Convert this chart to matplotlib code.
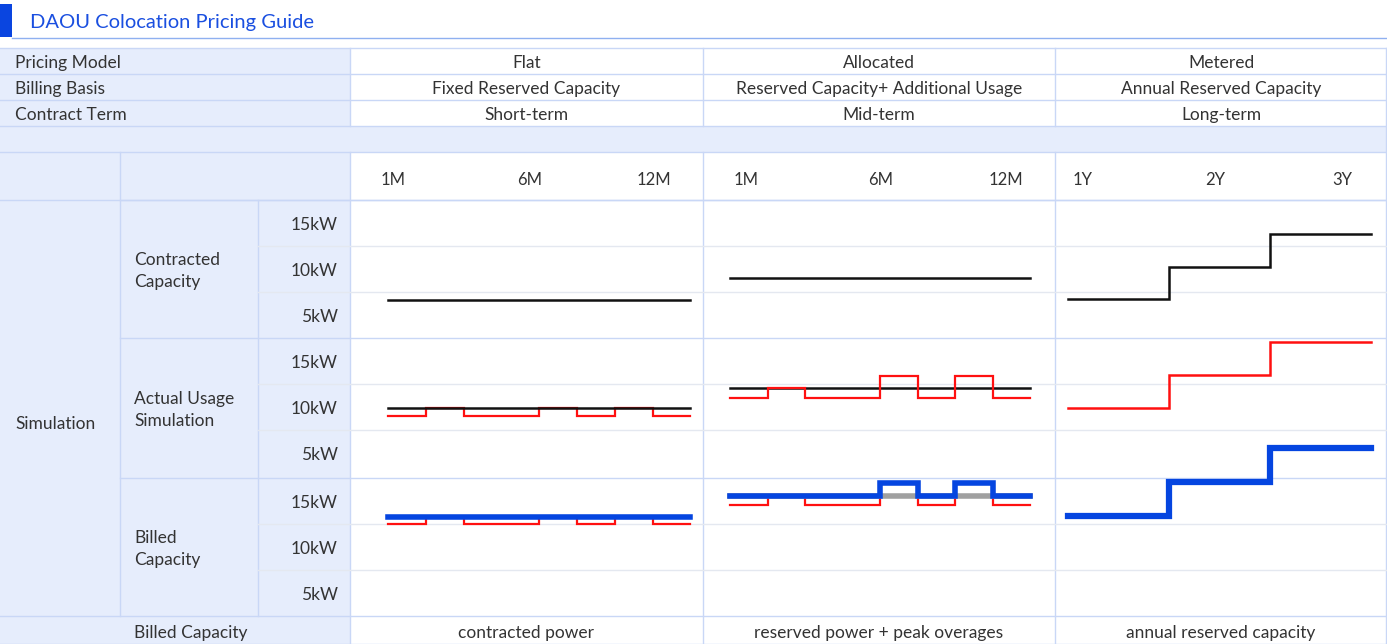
import matplotlib
matplotlib.use("Agg")
import matplotlib.pyplot as plt
from matplotlib.patches import Rectangle

plt.rcParams["font.family"] = ["Lato", "DejaVu Sans"]

# ---- data ----
models = ["Flat", "Allocated", "Metered"]
billing_basis = ["Fixed Reserved Capacity", "Reserved Capacity+ Additional Usage", "Annual Reserved Capacity"]
contract_terms = ["Short-term", "Mid-term", "Long-term"]
footer_texts = ["contracted power", "reserved power + peak overages", "annual reserved capacity"]
month_ticks = ["1M", "6M", "12M"]
year_ticks = ["1Y", "2Y", "3Y"]
kw_ticks = ["15kW", "10kW", "5kW"]
row_names = ["Contracted\nCapacity", "Actual Usage\nSimulation", "Billed\nCapacity"]

month_breaks = [0, 1.5, 3, 6, 7.5, 9, 10.5, 12]
year_breaks = [0, 1, 2, 3]

flat_contract = [6.6] * 7
flat_actual_ref = [9.9] * 7
flat_actual = [9.0, 9.9, 9.0, 9.9, 9.0, 9.9, 9.0]
flat_billed = [13.3] * 7
flat_billed_usage = [12.5, 13.3, 12.5, 13.3, 12.5, 13.3, 12.5]

alloc_contract = [9.0] * 7
alloc_actual_ref = [12.1] * 7
alloc_actual = [11.0, 12.1, 11.0, 13.4, 11.0, 13.4, 11.0]
alloc_billed_base = [15.5] * 7
alloc_billed = [15.5, 15.5, 15.5, 17.0, 15.5, 17.0, 15.5]
alloc_billed_usage = [14.6, 15.5, 14.6, 15.5, 14.6, 15.5, 14.6]

meter_contract = [6.7, 10.2, 13.8]
meter_actual = [9.9, 13.5, 17.1]
meter_billed = [13.4, 17.1, 20.8]

# ---- layout (pixel space) ----
W, H = 1387, 644
BLUE_BG = "#e6edfc"
GRID = "#c9d7f6"
LGRAY = "#e4e8f0"
TXT = "#333333"
cols = [350, 703, 1055, 1387]
rows_top = [200, 338, 478]
row_h = [138, 140, 138]
DY = 2  # text baseline nudge

fig = plt.figure(figsize=(W / 100, H / 100), dpi=100)
ax = fig.add_axes([0, 0, 1, 1])
ax.set_xlim(0, W)
ax.set_ylim(H, 0)
ax.axis("off")


def rect(x0, y0, x1, y1, color):
    ax.add_patch(Rectangle((x0, y0), x1 - x0, y1 - y0, facecolor=color, edgecolor="none", zorder=0))


def hline(y, x0, x1, color=GRID, lw=1.0):
    ax.plot([x0, x1], [y, y], color=color, lw=lw, zorder=1)


def vline(x, y0, y1, color=GRID, lw=1.0):
    ax.plot([x, x], [y0, y1], color=color, lw=lw, zorder=1)


# title
rect(0, 4, 12, 37, "#0a45e0")
ax.text(30, 20 + DY, "DAOU Colocation Pricing Guide", color="#1a4fe0", fontsize=14.5,
        va="center", ha="left")
hline(38, 12, W, color="#8fb0f0")

# backgrounds
rect(0, 48, 350, 126, BLUE_BG)
rect(0, 126, W, 152, BLUE_BG)
rect(0, 152, 350, 644, BLUE_BG)

# table lines
for y in [48, 74, 100, 126, 152, 200, 616, 644]:
    hline(y, 0, W)
for y in rows_top:
    hline(y, 120, W)
for c in cols[:-1]:
    vline(c, 48, 126)
    vline(c, 152, 644)
vline(120, 152, 616)
vline(258, 200, 616)
vline(W - 1, 48, 644)

# kW gridlines and labels
for y0 in rows_top:
    for i, lab in enumerate(kw_ticks):
        yc = y0 + 23 + 46 * i
        ax.text(338, yc + DY, lab, ha="right", va="center", fontsize=12.5, color=TXT)
        if i < 2:
            hline(y0 + 46 * (i + 1), 258, W, color=LGRAY)

# header rows
labels = ["Pricing Model", "Billing Basis", "Contract Term"]
for i, (lab, vals) in enumerate(zip(labels, [models, billing_basis, contract_terms])):
    yc = 61 + 26 * i + DY
    ax.text(15, yc, lab, ha="left", va="center", fontsize=12.5, color=TXT)
    for j, v in enumerate(vals):
        ax.text((cols[j] + cols[j + 1]) / 2, yc, v, ha="center", va="center", fontsize=12.5, color=TXT)

# time tick labels
tick_x = [[393, 530, 654], [746, 881, 1006], [1083, 1215, 1342]]
for j, xs in enumerate(tick_x):
    labs = year_ticks if j == 2 else month_ticks
    for x, t in zip(xs, labs):
        ax.text(x, 178 + DY, t, ha="center", va="center", fontsize=12, color=TXT)

# side labels
ax.text(15, 422 + DY, "Simulation", ha="left", va="center", fontsize=12.5, color=TXT)
for y0, h, lab in zip(rows_top, row_h, row_names):
    ax.text(134, y0 + h / 2 + DY, lab, ha="left", va="center", fontsize=12.5, color=TXT, linespacing=1.5)
ax.text(134, 631 + DY, "Billed Capacity", ha="left", va="center", fontsize=12.5, color=TXT)
for j, t in enumerate(footer_texts):
    ax.text((cols[j] + cols[j + 1]) / 2, 631 + DY, t, ha="center", va="center", fontsize=12.5, color=TXT)


# ---- step curves ----
def ky(y0, kw):
    return y0 + 23 + (15 - kw) * 9.2


def step(breaks, vals, x0, scale, y0, color, lw, z=3):
    xs = [x0 + b * scale for b in breaks]
    ys = [ky(y0, v) for v in vals] + [ky(y0, vals[-1])]
    ax.step(xs, ys, where="post", color=color, lw=lw, zorder=z, solid_joinstyle="miter")


RED, BLK, BLU, GRY = "#ff1010", "#111111", "#0545e0", "#a0a0a0"
fx, fs = 388, 25.2
axx, as_ = 730, 25.0
mx, ms = 1068, 101

# Flat
step(month_breaks, flat_contract, fx, fs, rows_top[0], BLK, 1.8)
step(month_breaks, flat_actual, fx, fs, rows_top[1], RED, 1.6)
step(month_breaks, flat_actual_ref, fx, fs, rows_top[1], BLK, 1.8, z=4)
step(month_breaks, flat_billed_usage, fx, fs, rows_top[2], RED, 1.6)
step(month_breaks, flat_billed, fx, fs, rows_top[2], BLU, 4, z=4)

# Allocated
step(month_breaks, alloc_contract, axx, as_, rows_top[0], BLK, 1.8)
step(month_breaks, alloc_actual_ref, axx, as_, rows_top[1], BLK, 1.8)
step(month_breaks, alloc_actual, axx, as_, rows_top[1], RED, 1.6, z=4)
step(month_breaks, alloc_billed_usage, axx, as_, rows_top[2], RED, 1.6)
step(month_breaks, alloc_billed_base, axx, as_, rows_top[2], GRY, 4, z=3.5)
step(month_breaks, alloc_billed, axx, as_, rows_top[2], BLU, 4, z=4)

# Metered
step(year_breaks, meter_contract, mx, ms, rows_top[0], BLK, 1.8)
step(year_breaks, meter_actual, mx, ms, rows_top[1], RED, 1.8)
step(year_breaks, meter_billed, mx, ms, rows_top[2], BLU, 4.5)

fig.savefig("out.png", dpi=100)
